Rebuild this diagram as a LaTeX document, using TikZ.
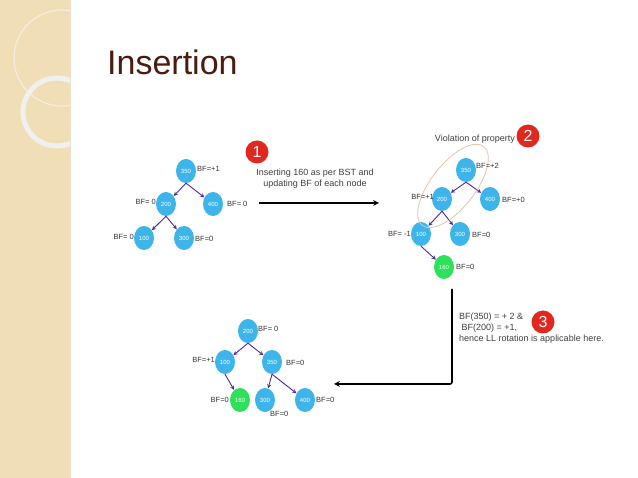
\documentclass[tikz,border=0pt]{standalone}
\usepackage{fontspec}
\setmainfont{Liberation Sans}
\usetikzlibrary{shapes.geometric}
\begin{document}
\begin{tikzpicture}[x=1pt,y=-1pt,
  tn/.style={ellipse,fill=nodeblue,minimum width=20pt,minimum height=24pt,inner sep=0pt,text=white,font=\fontsize{6}{6}\selectfont},
  gn/.style={tn,fill=nodegreen},
  bf/.style={inner sep=0pt,text=black!80,font=\fontsize{7.5}{8}\selectfont},
  ed/.style={draw=edgec,line width=0.9pt,-stealth},
  badge/.style={circle,fill=badgered,minimum size=23pt,inner sep=0pt,text=white,font=\fontsize{16}{16}\selectfont},
  txt/.style={inner sep=0pt,text=black!75,font=\fontsize{9}{11}\selectfont},
  bigarrow/.style={line width=1.6pt,-stealth}]
\definecolor{nodeblue}{HTML}{3DB5EA}
\definecolor{nodegreen}{HTML}{2EE05A}
\definecolor{edgec}{HTML}{4B2A9B}
\definecolor{badgered}{HTML}{E0281E}
\definecolor{side}{HTML}{F0DEB6}
\definecolor{titlec}{HTML}{4A1C10}
\useasboundingbox (0,0) rectangle (638,478);
\fill[white] (0,0) rectangle (638,478);
% sidebar
\fill[side] (0,0) rectangle (70,478);
\begin{scope}
\clip (0,0) rectangle (70,478);
\draw[white!85!brown,line width=1.2pt] (62,58) circle (48);
\draw[white!88!gray,line width=5pt] (57,112) circle (34);
\end{scope}
\draw[white!75!brown,line width=0.6pt] (70,0) -- (70,478);
\node[anchor=west,inner sep=0pt,text=titlec,font=\fontsize{34}{36}\selectfont] (title) at (107,62) {Insertion};
% tree 1
\node[tn] (a350) at (186,171) {350};
\node[tn] (a200) at (166,204) {200};
\node[tn] (a400) at (213,204) {400};
\node[tn] (a100) at (144,238) {100};
\node[tn] (a300) at (184,238) {300};
\draw[ed] (a350.south) -- (a200); \draw[ed] (a350.south) -- (a400);
\draw[ed] (a200.south) -- (a100); \draw[ed] (a200.south) -- (a300);
\node[bf,anchor=west] (l1) at (197,169) {BF=+1};
\node[bf,anchor=east] (l2) at (156,202) {BF= 0};
\node[bf,anchor=west] (l3) at (227,204) {BF= 0};
\node[bf,anchor=east] (l4) at (134,237) {BF= 0};
\node[bf,anchor=west] (l5) at (195,239) {BF=0};
\node[badge] (b1) at (257,152) {1};
\node[txt,align=center] (t1) at (315,179) {Inserting 160 as per BST and\\updating BF of each node};
\coordinate (ar1s) at (259,203); \coordinate (ar1e) at (379,203);
\draw[bigarrow] (ar1s) -- (ar1e);
% tree 2
\node[txt,anchor=east] (t2) at (515,139) {Violation of property};
\node[badge] (b2) at (528,136) {2};
\node[tn] (b350) at (466,170) {350};
\node[tn] (b200) at (442,199) {200};
\node[tn] (b400) at (490,199) {400};
\node[tn] (b100) at (421,234) {100};
\node[tn] (b300) at (460,234) {300};
\node[gn] (b160) at (444,267) {160};
\draw[ed] (b350.south) -- (b200); \draw[ed] (b350.south) -- (b400);
\draw[ed] (b200.south) -- (b100); \draw[ed] (b200.south) -- (b300);
\draw[ed] (b100.south) -- (b160);
\draw[brown!45,line width=0.8pt,rotate around={52:(453,186)}] (453,186) ellipse (50 and 22);
\node[bf,anchor=west] at (476,166) {BF=+2};
\node[bf,anchor=east] at (434,197) {BF=+1};
\node[bf,anchor=west] at (502,200) {BF=+0};
\node[bf,anchor=east] at (411,234) {BF= -1};
\node[bf,anchor=west] at (472,235) {BF=0};
\node[bf,anchor=west] at (456,267) {BF=0};
% step 3
\node[txt,anchor=west,align=left] (t3) at (459,328) {BF(350) = + 2 \&\\\ BF(200) = +1,\\hence LL rotation is applicable here.};
\node[badge] (b3) at (543,322) {3};
\coordinate (ar2s) at (452,289); \coordinate (ar2m) at (452,384); \coordinate (ar2e) at (334,384);
\draw[bigarrow,rounded corners=2pt] (ar2s) -- (ar2m) -- (ar2e);
% tree 3
\node[tn] (c200) at (248,331) {200};
\node[tn] (c100) at (225,362) {100};
\node[tn] (c350) at (272,362) {350};
\node[gn] (c160) at (240,400) {160};
\node[tn] (c300) at (265,400) {300};
\node[tn] (c400) at (305,400) {400};
\draw[ed] (c200.south) -- (c100); \draw[ed] (c200.south) -- (c350);
\draw[ed] (c100.south) -- (c160);
\draw[ed] (c350.south) -- (c300); \draw[ed] (c350.south) -- (c400);
\node[bf,anchor=west] at (258,329) {BF= 0};
\node[bf,anchor=east] at (215,360) {BF=+1};
\node[bf,anchor=west] at (286,363) {BF=0};
\node[bf,anchor=east] at (229,400) {BF=0};
\node[bf,anchor=west] at (270,414) {BF=0};
\node[bf,anchor=west] at (316,400) {BF=0};
\end{tikzpicture}
\end{document}
